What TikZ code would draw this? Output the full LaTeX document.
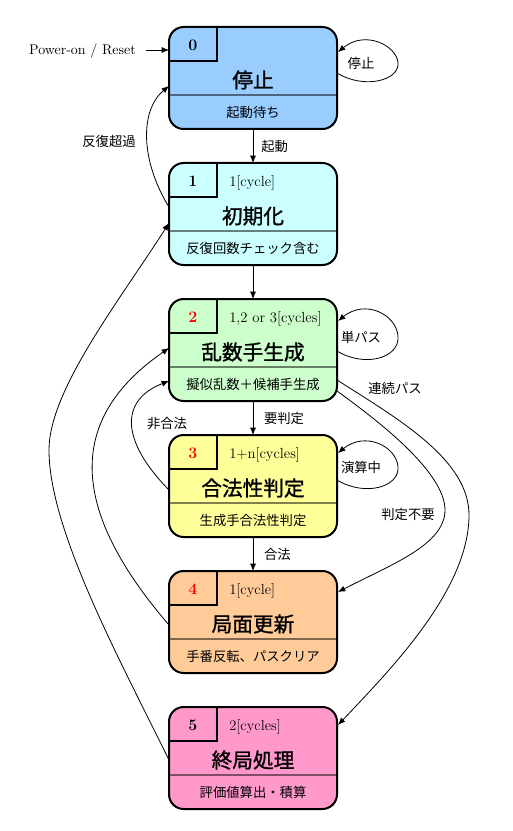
\documentclass[tikz,border=0pt]{standalone}
\usepackage{fontspec}
\newfontfamily\jp{Noto Sans CJK JP}
\newfontfamily\jpt[FakeBold=1.2]{Noto Sans CJK JP}
\usetikzlibrary{calc,arrows.meta}
\definecolor{cA}{HTML}{99CCFF}
\definecolor{cB}{HTML}{CCFFFF}
\definecolor{cC}{HTML}{CCFFCC}
\definecolor{cD}{HTML}{FFFF99}
\definecolor{cE}{HTML}{FFCC99}
\definecolor{cF}{HTML}{FF99CC}
\definecolor{numred}{HTML}{FF0000}
\tikzset{
  statebox/.style={draw=black, line width=1.5pt, rounded corners=11pt, minimum width=126pt, minimum height=76.5pt, inner sep=0pt, outer sep=0pt},
  numtxt/.style={font=\fontsize{12}{14}\selectfont\bfseries, inner sep=0pt},
  cyctxt/.style={font=\fontsize{11}{13}\selectfont, anchor=west, inner sep=0pt},
  titletxt/.style={font=\jpt\fontsize{15.5}{18}\selectfont, inner sep=0pt},
  subtxt/.style={font=\jp\fontsize{10}{12}\selectfont, inner sep=0pt},
  lbl/.style={font=\jp\fontsize{10}{12}\selectfont, inner sep=0pt},
  arr/.style={line width=0.6pt, -{Latex[length=5.5pt,width=4.5pt]}},
}
\newcommand\mkstate[8]{%
  \node[statebox, fill=#3] (#1) at (253,#2) {};
  \draw[line width=1.3pt, draw=#3!50!black, shorten <=0.7pt, shorten >=0.7pt] ($(#1.north west)+(0,68)$) -- ($(#1.north east)+(0,68)$);
  \draw[line width=1.5pt] ($(#1.north west)+(0,34)$) -| ($(#1.north west)+(48,0)$);
  \node[numtxt, text=#5] (#1num) at ($(#1.north west)+(24,18)$) {#4};
  \node[cyctxt] (#1cyc) at ($(#1.north west)+(60,20)$) {#6};
  \node[titletxt] (#1title) at ($(#1.north)+(0,53)$) {#7};
  \node[subtxt] (#1sub) at ($(#1.north)+(0,85)$) {#8};
}
\newcommand\selfloop[4]{%
  \draw[arr] ($(#1.north east)+(0,#2)$) .. controls ($(#1.north east)+(28,#2+17)$) and ($(#1.north east)+(63,#2+7)$) .. ($(#1.north east)+(61,{(#2+#3)/2})$) .. controls ($(#1.north east)+(59,#3-7)$) and ($(#1.north east)+(28,#3-22)$) .. ($(#1.north east)+(1,#3)$);
  \node[lbl] (#1loop) at ($(#1.north east)+(24,{(#2+#3)/2+1})$) {\jp #4};
}
\begin{document}
\begin{tikzpicture}[x=0.75pt,y=-0.75pt]
\useasboundingbox[fill=white] (0,0) rectangle (513,831);

\mkstate{s0}{78}{cA}{0}{black}{}{停止}{起動待ち}
\mkstate{s1}{214}{cB}{1}{black}{1[cycle]}{初期化}{反復回数チェック含む}
\mkstate{s2}{350}{cC}{2}{numred}{1,2 or 3[cycles]}{乱数手生成}{擬似乱数＋候補手生成}
\mkstate{s3}{486}{cD}{3}{numred}{1+n[cycles]}{合法性判定}{生成手合法性判定}
\mkstate{s4}{622}{cE}{4}{numred}{1[cycle]}{局面更新}{手番反転、パスクリア}
\mkstate{s5}{758}{cF}{5}{black}{2[cycles]}{終局処理}{評価値算出・積算}

% power-on
\node[font=\fontsize{10.5}{12}\selectfont, anchor=east, inner sep=0pt] (pwr) at (136,51) {Power-on / Reset};
\draw[arr] ($(pwr.east)+(10,-1)$) -- ($(s0.north west)+(0,23)$);

% straight transitions
\draw[arr] (s0.south) -- (s1.north) node[lbl, midway, right=6pt] (l01) {起動};
\draw[arr] (s1.south) -- (s2.north);
\draw[arr] (s2.south) -- (s3.north) node[lbl, midway, right=8pt] (l23) {要判定};
\draw[arr] (s3.south) -- (s4.north) node[lbl, midway, right=8pt] (l34) {合法};

% self loops
\selfloop{s0}{46}{25}{停止}
\selfloop{s2}{52}{22}{単パス}
\selfloop{s3}{45}{18}{演算中}

% 反復超過 1 -> 0
\draw[arr] ($(s1.north west)+(0,44)$) .. controls ($(s1.north west)+(-29,-3)$) and ($(s0.north west)+(-29,83)$) .. ($(s0.north west)+(0,59)$);
\node[lbl] (l10) at (109,141) {反復超過};

% 5 -> 1
\draw[arr] ($(s5.north west)+(0,53)$) .. controls (120,660) and (49,530) .. (49,450) .. controls (49,390) and (120,300) .. ($(s1.north west)+(0,60)$);
% 4 -> 2
\draw[arr] ($(s4.north west)+(0,54)$) .. controls (70,510) and (65,420) .. ($(s2.north west)+(0,49)$);
% 非合法 3 -> 2
\draw[arr] ($(s3.north west)+(0,55)$) .. controls (120,440) and (120,400) .. ($(s2.north west)+(0,82)$);
\node[lbl] (l32) at (167,424) {非合法};

% 判定不要 2 -> 4
\draw[arr] ($(s2.north east)+(0,92)$) .. controls (370,415) and (445,470) .. (445,510) .. controls (445,545) and (390,565) .. ($(s4.north east)+(1,21)$);
\node[lbl] (l24) at (408,514) {判定不要};

% 連続パス 2 -> 5
\draw[arr] ($(s2.north east)+(0,81)$) .. controls (400,420) and (469,460) .. (469,515) .. controls (469,590) and (390,670) .. ($(s5.north east)+(1,18)$);
\node[lbl] (l25) at (395,388) {連続パス};
\end{tikzpicture}
\end{document}
